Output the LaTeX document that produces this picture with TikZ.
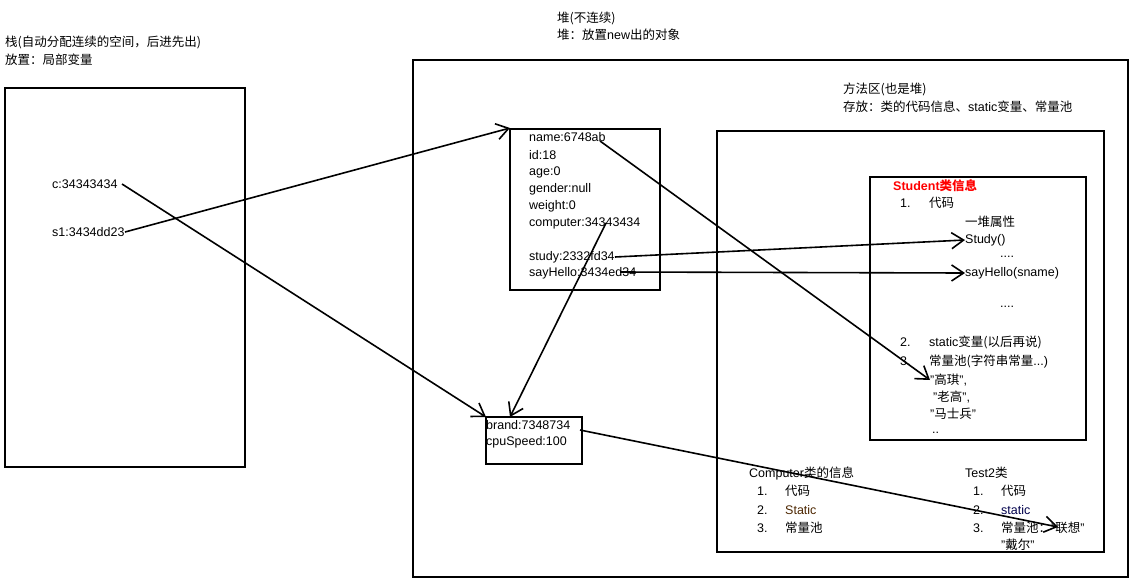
\documentclass[tikz,border=0pt]{standalone}
\usepackage{fontspec}
\setmainfont{Liberation Sans}
\newfontfamily\cjk{Noto Sans CJK SC}
\newcommand{\zh}[1]{{\cjk #1}}
\usetikzlibrary{arrows.meta}
\begin{document}
\begin{tikzpicture}[x=1pt,y=-1pt,
  box/.style={draw,line width=1.2pt},
  t/.style={anchor=west,inner sep=0pt,font=\fontsize{12.5}{14}\selectfont},
  arr/.style={line width=1.6pt,-{Straight Barb[length=12pt,width=16pt,line width=1.6pt]}}]
\useasboundingbox (0,0) rectangle (1133,587);
% labels
\node[t] (sl1) at (5,42) {\zh{栈(自动分配连续的空间，后进先出)}};
\node[t] (sl2) at (5,60) {\zh{放置：局部变量}};
\node[t] (hl1) at (557,18) {\zh{堆(不连续)}};
\node[t] (hl2) at (557,35) {\zh{堆：放置}new\zh{出的对象}};
\node[t] (ml1) at (843,89) {\zh{方法区(也是堆)}};
\node[t] (ml2) at (843,107) {\zh{存放：类的代码信息、}static\zh{变量、常量池}};
% boxes
\draw[box] (5,88) rectangle (245,467);
\draw[box] (413,60) rectangle (1128,577);
\draw[box] (510,129) rectangle (660,290);
\draw[box] (486,417) rectangle (582,464);
\draw[box] (717,131) rectangle (1104,552);
\draw[box] (870,177) rectangle (1086,440);
% stack vars
\node[t] (c) at (52,184) {c:34343434};
\node[t] (s1) at (52,232) {s1:3434dd23};
% student object
\node[t] (name) at (529,137) {name:6748ab};
\node[t] (id) at (529,155) {id:18};
\node[t] (age) at (529,172) {age:0};
\node[t] (gender) at (529,189) {gender:null};
\node[t] (weight) at (529,206) {weight:0};
\node[t] (comp) at (529,223) {computer:34343434};
\node[t] (study) at (529,257) {study:2332fd34};
\node[t] (say) at (529,273) {sayHello:3434ed34};
% computer object
\node[t] (brand) at (486,425) {brand:7348734};
\node[t] (cpu) at (486,442) {cpuSpeed:100};
% student class
\node[t,text=red,font=\fontsize{12.5}{14}\bfseries] (stc) at (893,186) {Student{\cjk 类信息}};
\node[t] (n1) at (900,203) {1.};
\node[t] (code) at (929,203) {\zh{代码}};
\node[t] (attr) at (965,222) {\zh{一堆属性}};
\node[t] (studyf) at (965,240) {Study()};
\node[t] (d1) at (1000,257) {....};
\node[t] (sayf) at (965,273) {sayHello(sname)};
\node[t] (d2) at (1000,307) {....};
\node[t] (n2) at (900,342) {2.};
\node[t] (stv) at (929,342) {static\zh{变量(以后再说)}};
\node[t] (n3) at (900,361) {3.};
\node[t] (pool) at (929,361) {\zh{常量池(字符串常量}...)};
\node[t] (g1) at (930,380) {"\zh{高琪}",};
\node[t] (g2) at (933,397) {"\zh{老高}",};
\node[t] (g3) at (930,414) {"\zh{马士兵}"};
\node[t] (g4) at (932,433) {..};
% computer class
\node[t] (cc) at (749,473) {Computer\zh{类的信息}};
\node[t] (c1) at (757,491) {1.};
\node[t] (c1t) at (785,491) {\zh{代码}};
\node[t] (c2) at (757,510) {2.};
\node[t,text=black!70!orange] (c2t) at (785,510) {Static};
\node[t] (c3) at (757,528) {3.};
\node[t] (c3t) at (785,528) {\zh{常量池}};
% test2
\node[t] (tc) at (965,473) {Test2\zh{类}};
\node[t] (t1) at (973,491) {1.};
\node[t] (t1t) at (1001,491) {\zh{代码}};
\node[t] (t2) at (973,510) {2.};
\node[t,text=black!70!blue] (t2t) at (1001,510) {static};
\node[t] (t3) at (973,528) {3.};
\node[t] (t3t) at (1001,528) {\zh{常量池：}"\zh{联想}"};
\node[t] (t4) at (1001,545) {"\zh{戴尔}"};
% arrows
\coordinate (sa) at (125,232); \coordinate (se) at (510,128);
\coordinate (ca) at (122,184); \coordinate (ce) at (486,417);
\draw[arr] (sa) -- (se);
\draw[arr] (ca) -- (ce);
\coordinate (pa) at (606,223); \coordinate (pe) at (510,417);
\draw[arr] (pa) -- (pe);
\coordinate (na) at (600,141);
\draw[arr] (na) -- (g1.west);
\coordinate (sta) at (615,257);
\draw[arr] (sta) -- (studyf.west);
\coordinate (saa) at (620,272);
\draw[arr] (saa) -- (sayf.west);
\coordinate (ba) at (580,430); \coordinate (be) at (1058,527);
\draw[arr] (ba) -- (be);
\end{tikzpicture}
\end{document}
